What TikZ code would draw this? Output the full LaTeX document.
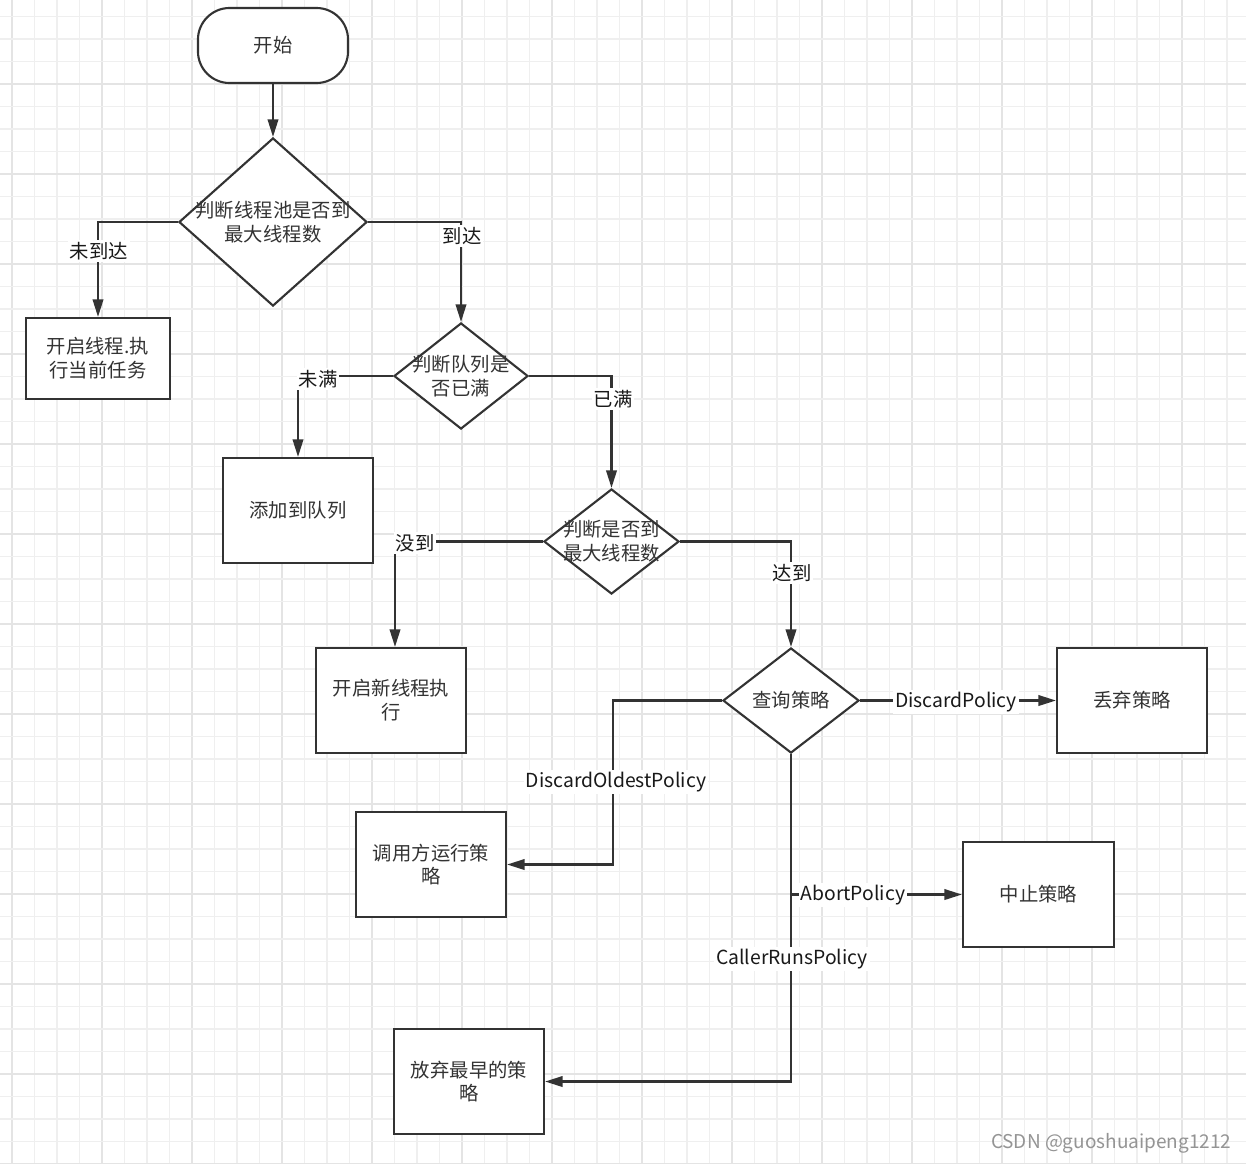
\documentclass[tikz,border=0pt]{standalone}
\usepackage{fontspec}
\setmainfont{Noto Sans CJK SC}
\usetikzlibrary{shapes.geometric,arrows.meta,calc}
\definecolor{ln}{HTML}{333333}
\definecolor{txt}{HTML}{333333}
\definecolor{gthin}{HTML}{EFEFEF}
\definecolor{gthick}{HTML}{E4E4E4}
\tikzset{
  fnt/.style={font=\fontsize{5.5pt}{6.8pt}\selectfont},
  box/.style={draw=ln, line width=0.6pt, fill=white, fnt, text=txt, align=center, inner sep=0pt},
  dia/.style={diamond, draw=ln, line width=0.6pt, fill=white, inner sep=0pt, aspect=1},
  dtext/.style={fnt, text=txt, align=center, inner sep=0pt},
  arr/.style={draw=ln, line width=0.6pt, -{Triangle[length=5pt,width=3pt]}},
  lbl/.style={fnt, text=black!90, fill=white, inner sep=0.6pt},
  gridthin/.style={draw=gthin, line width=0.4pt},
  gridthick/.style={draw=gthick, line width=0.5pt}
}
\begin{document}
\begin{tikzpicture}[x=0.01cm, y=-0.01cm]
\useasboundingbox (0,0) rectangle (1246,1163);
\fill[white] (0,0) rectangle (1246,1163);
% grid
\foreach \i in {0,...,54} {
  \pgfmathsetmacro{\xx}{12+22.5*\i}
  \pgfmathtruncatemacro{\m}{mod(\i,4)}
  \ifnum\m=0
    \draw[gridthick] (\xx,0) -- (\xx,1163);
  \else
    \draw[gridthin] (\xx,0) -- (\xx,1163);
  \fi
}
\foreach \i in {-1,...,51} {
  \pgfmathsetmacro{\yy}{16.5+22.5*\i}
  \pgfmathtruncatemacro{\m}{mod(\i+8,4)}
  \ifnum\m=3
    \draw[gridthick] (0,\yy) -- (1246,\yy);
  \else
    \draw[gridthin] (0,\yy) -- (1246,\yy);
  \fi
}

% nodes
\node[box, rounded corners=9pt, minimum width=1.5cm, minimum height=0.75cm] (start) at (273,45.5) {开始};
\node[dia, minimum width=1.88cm, minimum height=1.68cm] (d1) at (273,222) {};
\node[dtext] (d1t) at (273,222) {判断线程池是否到\\最大线程数};
\node[box, minimum width=1.44cm, minimum height=0.81cm] (b1) at (98,358.5) {开启线程.执\\行当前任务};
\node[dia, minimum width=1.34cm, minimum height=1.06cm] (d2) at (461,376) {};
\node[dtext] (d2t) at (461,376) {判断队列是\\否已满};
\node[box, minimum width=1.5cm, minimum height=1.05cm] (b2) at (298,510.5) {添加到队列};
\node[dia, minimum width=1.35cm, minimum height=1.05cm] (d3) at (611.5,541.5) {};
\node[dtext] (d3t) at (611.5,541.5) {判断是否到\\最大线程数};
\node[box, minimum width=1.5cm, minimum height=1.05cm] (b3) at (391,700.5) {开启新线程执\\行};
\node[dia, minimum width=1.36cm, minimum height=1.05cm] (d4) at (791,700.5) {};
\node[dtext] (d4t) at (791,700.5) {查询策略};
\node[box, minimum width=1.5cm, minimum height=1.05cm] (b4) at (1132,700.5) {丢弃策略};
\node[box, minimum width=1.5cm, minimum height=1.05cm] (b5) at (431,864.5) {调用方运行策\\略};
\node[box, minimum width=1.51cm, minimum height=1.05cm] (b6) at (1038.5,894.5) {中止策略};
\node[box, minimum width=1.5cm, minimum height=1.05cm] (b7) at (469,1081.5) {放弃最早的策\\略};

% connectors
\draw[arr] (start.south) -- (d1.north);
\draw[arr] (d1.west) -| (b1.north);
\draw[arr] (d1.east) -| (d2.north);
\draw[arr] (d2.west) -| (b2.north);
\draw[arr] (d2.east) -| (d3.north);
\draw[arr] (d3.west) -| ([xshift=0.04cm]b3.north);
\draw[arr] (d3.east) -| (d4.north);
\draw[arr] (d4.east) -- (b4.west);
\draw[arr] (d4.west) -- ++(-109,0) |- (b5.east);
\draw[arr] (d4.south) |- (b6.west);
\draw[arr] (d4.south) |- (b7.east);

% labels
\node[lbl] (l1) at (99,251) {未到达};
\node[lbl] (l2) at (462,236) {到达};
\node[lbl] (l3) at (318,379) {未满};
\node[lbl] (l4) at (613,399) {已满};
\node[lbl] (l5) at (415,543) {没到};
\node[lbl] (l6) at (792,573) {达到};
\node[lbl] (l7) at (956,702) {DiscardPolicy};
\node[lbl] (l8) at (616,782) {DiscardOldestPolicy};
\node[lbl] (l9) at (853,895) {AbortPolicy};
\node[lbl] (l10) at (792,959) {CallerRunsPolicy};

% watermark
\node[font=\fontsize{5.4pt}{6.5pt}\selectfont, text=black!42, anchor=east, inner sep=0pt] (wm) at (1232,1143) {CSDN @guoshuaipeng1212};
\end{tikzpicture}
\end{document}
